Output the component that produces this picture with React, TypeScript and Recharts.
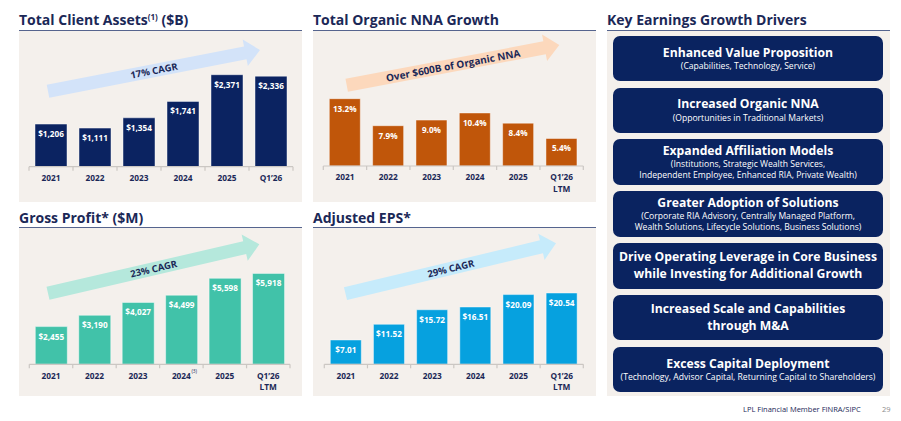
import React from 'react';
import { BarChart, Bar, XAxis, YAxis, LabelList, Customized } from 'recharts';

// ---- data ----
const periods = ['2021', '2022', '2023', '2024', '2025', 'Q1’26'];
const ltmPeriods = ['2021', '2022', '2023', '2024', '2025', 'Q1’26\nLTM'];
const grossProfitNotes = ['', '', '', '(3)', '', ''];

const clientAssets = [1206, 1111, 1354, 1741, 2371, 2336]; // $B
const organicNna = [13.2, 7.9, 9.0, 10.4, 8.4, 5.4]; // %
const grossProfit = [2455, 3190, 4027, 4499, 5598, 5918]; // $M
const adjustedEps = [7.01, 11.52, 15.72, 16.51, 20.09, 20.54]; // $

const drivers: { title: string[]; detail: string[] }[] = [
  { title: ['Enhanced Value Proposition'], detail: ['(Capabilities, Technology, Service)'] },
  { title: ['Increased Organic NNA'], detail: ['(Opportunities in Traditional Markets)'] },
  {
    title: ['Expanded Affiliation Models'],
    detail: ['(Institutions, Strategic Wealth Services,', 'Independent Employee, Enhanced RIA, Private Wealth)'],
  },
  {
    title: ['Greater Adoption of Solutions'],
    detail: ['(Corporate RIA Advisory, Centrally Managed Platform,', 'Wealth Solutions, Lifecycle Solutions, Business Solutions)'],
  },
  { title: ['Drive Operating Leverage in Core Business', 'while Investing for Additional Growth'], detail: [] },
  { title: ['Increased Scale and Capabilities', 'through M&A'], detail: [] },
  {
    title: ['Excess Capital Deployment'],
    detail: ['(Technology, Advisor Capital, Returning Capital to Shareholders)'],
  },
];

// ---- styling ----
const FONT = '"Open Sans", "DejaVu Sans", sans-serif';
const NAVY = '#1b2857';
const BOX = '#0a2360';
const BEIGE = '#f4f0ec';
const RULE = '#55648e';
const AXIS = '#cbc7c3';

const money = (v: number) => '$' + v.toLocaleString('en-US');
const pct = (v: number) => v.toFixed(1) + '%';
const cents = (v: number) => '$' + v.toFixed(2);

type ArrowProps = {
  x1: number; y1: number; x2: number; y2: number;
  fill: string; text: string; fontSize: number;
};

function GrowthArrow({ x1, y1, x2, y2, fill, text, fontSize }: ArrowProps) {
  const dx = x2 - x1;
  const dy = y2 - y1;
  const len = Math.hypot(dx, dy);
  const ux = dx / len;
  const uy = dy / len;
  const nx = -uy;
  const ny = ux;
  const shaft = 6.6;
  const head = 13.5;
  const headLen = 15;
  const bx = x2 - ux * headLen;
  const by = y2 - uy * headLen;
  const pts = [
    [x1 + nx * shaft, y1 + ny * shaft],
    [bx + nx * shaft, by + ny * shaft],
    [bx + nx * head, by + ny * head],
    [x2, y2],
    [bx - nx * head, by - ny * head],
    [bx - nx * shaft, by - ny * shaft],
    [x1 - nx * shaft, y1 - ny * shaft],
  ]
    .map((p) => p[0].toFixed(2) + ',' + p[1].toFixed(2))
    .join(' ');
  const angle = (Math.atan2(dy, dx) * 180) / Math.PI;
  const mx = x1 + dx * 0.5;
  const my = y1 + dy * 0.5;
  return (
    <g>
      <polygon points={pts} fill={fill} />
      <text
        x={mx}
        y={my}
        transform={`rotate(${angle.toFixed(2)} ${mx} ${my})`}
        textAnchor="middle"
        dominantBaseline="central"
        fill={NAVY}
        fontFamily={FONT}
        fontWeight={700}
        fontSize={fontSize}
      >
        {text}
      </text>
    </g>
  );
}

function PeriodTick(props: any) {
  const { x, y, payload, bw, count, notes } = props;
  const index: number = props.index ?? payload?.index ?? 0;
  const lines = String(payload.value).split('\n');
  const note = notes ? notes[index] : '';
  return (
    <g>
      <line x1={x - bw / 2} x2={x - bw / 2} y1={y} y2={y + 4} stroke={AXIS} strokeWidth={1.2} />
      {index === count - 1 && (
        <line x1={x + bw / 2} x2={x + bw / 2} y1={y} y2={y + 4} stroke={AXIS} strokeWidth={1.2} />
      )}
      <text textAnchor="middle" fill={NAVY} fontFamily={FONT} fontWeight={700} fontSize={8.3}>
        {lines.map((l, i) => (
          <tspan key={i} x={x} y={y + 14.3 + i * 11.6}>
            {l}
          </tspan>
        ))}
      </text>
      {note ? (
        <text x={x + 10} y={y + 8.6} fill={NAVY} fontFamily={FONT} fontSize={4.8}>
          {note}
        </text>
      ) : null}
    </g>
  );
}

type PanelProps = {
  left: number; top: number; width: number; height: number;
  labels: string[]; values: number[]; notes?: string[];
  color: string; domain: [number, number];
  margin: { top: number; left: number; right: number };
  axisHeight: number; barSize: number;
  format: (v: number) => string;
  arrow: ArrowProps;
};

function BarPanel(p: PanelProps) {
  const rows = p.labels.map((label, i) => ({ label, value: p.values[i] }));
  const bw = (p.width - p.margin.left - p.margin.right) / rows.length;
  return (
    <div style={{ position: 'absolute', left: p.left, top: p.top, width: p.width, height: p.height, background: BEIGE }}>
      <BarChart
        width={p.width}
        height={p.height}
        data={rows}
        margin={{ top: p.margin.top, left: p.margin.left, right: p.margin.right, bottom: 0 }}
      >
        <XAxis
          dataKey="label"
          height={p.axisHeight}
          interval={0}
          tickSize={0}
          tickMargin={0}
          tickLine={false}
          axisLine={{ stroke: AXIS, strokeWidth: 1.2 }}
          tick={(tp: any) => <PeriodTick {...tp} bw={bw} count={rows.length} notes={p.notes} />}
        />
        <YAxis hide domain={p.domain} allowDataOverflow />
        <Customized component={<GrowthArrow {...p.arrow} />} />
        <Bar
          dataKey="value"
          fill={p.color}
          stroke="rgba(255,255,255,0.45)"
          strokeWidth={1}
          barSize={p.barSize}
          isAnimationActive={false}
        >
          <LabelList
            dataKey="value"
            content={(lp: any) => (
              <text
                x={Number(lp.x) + Number(lp.width) / 2}
                y={Number(lp.y) + 13}
                textAnchor="middle"
                fill="#ffffff"
                fontFamily={FONT}
                fontWeight={700}
                fontSize={8.2}
              >
                {p.format(Number(lp.value))}
              </text>
            )}
          />
        </Bar>
      </BarChart>
    </div>
  );
}

function DriverBox({ item, top }: { item: { title: string[]; detail: string[] }; top: number }) {
  return (
    <div
      style={{
        position: 'absolute',
        left: 613,
        top,
        width: 270,
        height: 45.5,
        background: BOX,
        borderRadius: 7,
        display: 'flex',
        flexDirection: 'column',
        justifyContent: 'center',
        alignItems: 'center',
        color: '#ffffff',
        fontFamily: FONT,
        textAlign: 'center',
      }}
    >
      {item.title.map((t, i) => (
        <div key={'t' + i} style={{ fontSize: 12.2, fontWeight: 700, lineHeight: '16.6px', whiteSpace: 'nowrap' }}>
          {t}
        </div>
      ))}
      {item.detail.map((t, i) => (
        <div key={'d' + i} style={{ fontSize: 8.6, lineHeight: '11px', whiteSpace: 'nowrap' }}>
          {t}
        </div>
      ))}
    </div>
  );
}

export default function App() {
  const titleStyle = { fontFamily: FONT, fontWeight: 700, fontSize: 14, fill: NAVY } as const;
  return (
    <div style={{ position: 'absolute', left: 0, top: 0, width: 901, height: 421, background: '#ffffff', overflow: 'hidden' }}>
      <BarPanel
        left={19} top={31} width={283} height={171}
        labels={periods} values={clientAssets}
        color="#0b2361" domain={[200, 2600]}
        margin={{ top: 34, left: 10, right: 9 }} axisHeight={35.3} barSize={32}
        format={money}
        arrow={{ x1: 29, y1: 60.3, x2: 241, y2: 19, fill: '#d3e3f9', text: '17% CAGR', fontSize: 9.5 }}
      />
      <BarPanel
        left={313} top={31} width={283} height={171}
        labels={ltmPeriods} values={organicNna}
        color="#c0560a" domain={[0, 20]}
        margin={{ top: 33, left: 10.3, right: 12.7 }} axisHeight={36} barSize={31}
        format={pct}
        arrow={{ x1: 33.7, y1: 54.3, x2: 246.3, y2: 14, fill: '#fcd8bc', text: 'Over $600B of Organic NNA', fontSize: 10 }}
      />
      <BarPanel
        left={19} top={228} width={283} height={168}
        labels={ltmPeriods} values={grossProfit} notes={grossProfitNotes}
        color="#41c2a9" domain={[0, 7000]}
        margin={{ top: 28.8, left: 10.3, right: 12 }} axisHeight={31.7} barSize={32}
        format={money}
        arrow={{ x1: 29, y1: 65.3, x2: 240.3, y2: 16.3, fill: '#b5e8dc', text: '23% CAGR', fontSize: 9.5 }}
      />
      <BarPanel
        left={313} top={228} width={283} height={168}
        labels={ltmPeriods} values={adjustedEps}
        color="#06a1df" domain={[0, 30]}
        margin={{ top: 32.2, left: 11.3, right: 12.7 }} axisHeight={31.7} barSize={31}
        format={cents}
        arrow={{ x1: 32.5, y1: 65.7, x2: 243, y2: 15.3, fill: '#c6ebfb', text: '29% CAGR', fontSize: 9.5 }}
      />

      <div style={{ position: 'absolute', left: 607, top: 31, width: 283, height: 365, background: BEIGE }} />

      <svg width={901} height={421} style={{ position: 'absolute', left: 0, top: 0, pointerEvents: 'none' }}>
        <text x={19} y={25} {...titleStyle}>
          Total Client Assets
          <tspan fontSize={8} dy={-5.5}>(1)</tspan>
          <tspan dy={5.5}> ($B)</tspan>
        </text>
        <text x={313} y={25} {...titleStyle}>Total Organic NNA Growth</text>
        <text x={607} y={25} {...titleStyle}>Key Earnings Growth Drivers</text>
        <text x={19} y={223} {...titleStyle}>Gross Profit* ($M)</text>
        <text x={313} y={223} {...titleStyle}>Adjusted EPS*</text>

        <line x1={19} x2={302} y1={30.5} y2={30.5} stroke={RULE} strokeWidth={1} />
        <line x1={313} x2={596} y1={30.5} y2={30.5} stroke={RULE} strokeWidth={1} />
        <line x1={607} x2={890} y1={30.5} y2={30.5} stroke={RULE} strokeWidth={1} />
        <line x1={19} x2={302} y1={227.5} y2={227.5} stroke={RULE} strokeWidth={1} />
        <line x1={313} x2={596} y1={227.5} y2={227.5} stroke={RULE} strokeWidth={1} />

        <text x={743} y={411.5} fontFamily={FONT} fontSize={7.5} fill={NAVY}>
          LPL Financial Member FINRA/SIPC
        </text>
        <text x={882} y={411.5} fontFamily={FONT} fontSize={7.5} fill="#8c8c8c">
          29
        </text>
      </svg>

      {drivers.map((d, i) => (
        <DriverBox key={i} item={d} top={35.7 + i * 51.83} />
      ))}
    </div>
  );
}
